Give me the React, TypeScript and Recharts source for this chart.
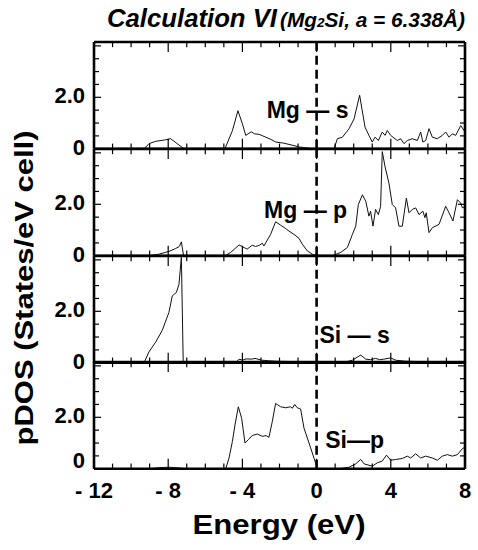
import { LineChart, Line, XAxis, YAxis, ReferenceLine, ReferenceDot } from 'recharts'

// pDOS panels: [energy (eV), states/eV cell]
const mgS: [number, number][] = [
  [-12, 0], [-9.3, 0], [-9.03, 0.2], [-8.67, 0.29], [-8.2, 0.34], [-7.87, 0.39], [-7.15, 0],
  [-4.94, 0], [-4.54, 0.7], [-4.24, 1.48], [-4.0, 0.97], [-3.82, 0.52], [-3.65, 0.6], [-3.52, 0.66],
  [-3.35, 0.58], [-3.1, 0.56], [-2.9, 0.5], [-2.74, 0.45], [-2.45, 0.36], [-2.2, 0.26], [-1.8, 0.22],
  [-1.49, 0.17], [-0.95, 0.07], [-0.24, 0], [0.94, 0], [1.12, 0.39], [1.39, 0.45], [1.75, 0.78],
  [2.02, 1.16], [2.32, 2.08], [2.61, 0.84], [2.82, 0.52], [3.0, 0.26], [3.15, 0.45], [3.33, 0.32],
  [3.54, 0.65], [3.69, 0.52], [3.81, 0.71], [3.99, 0.52], [4.17, 0.42], [4.35, 0.32], [4.53, 0.39],
  [4.71, 0.2], [4.89, 0.32], [5.16, 0.39], [5.43, 0.32], [5.61, 0.65], [5.73, 0.26], [5.88, 0.32],
  [6.06, 0.78], [6.24, 0.45], [6.51, 0.39], [6.78, 0.52], [6.96, 0.65], [7.14, 0.45], [7.32, 0.58],
  [7.5, 0.52], [7.77, 0.9], [7.95, 0.71], [8, 0.75],
]

const mgP: [number, number][] = [
  [-12, 0], [-9.04, 0], [-8.5, 0.06], [-7.96, 0.17], [-7.6, 0.28], [-7.4, 0.36], [-7.29, 0.54],
  [-7.17, 0], [-4.94, 0], [-4.63, 0.13], [-4.18, 0.42], [-3.91, 0.32], [-3.74, 0.26], [-3.47, 0.41],
  [-3.29, 0.36], [-3.07, 0.41], [-2.93, 0.49], [-2.84, 0.38], [-2.48, 0.83], [-2.21, 1.32],
  [-1.94, 1.19], [-1.67, 1.06], [-1.49, 0.96], [-1.22, 0.83], [-0.95, 0.68], [-0.77, 0.45],
  [-0.5, 0.19], [-0.23, 0.06], [0.02, 0], [0.85, 0], [1.3, 0.13], [1.66, 0.32], [1.93, 0.83],
  [2.11, 1.15], [2.25, 1.99], [2.47, 2.37], [2.65, 2.12], [2.82, 1.54], [2.91, 1.73], [3.04, 1.15],
  [3.18, 1.8], [3.33, 1.6], [3.45, 1.92], [3.54, 4.05], [3.69, 3.46], [3.9, 2.82], [4.08, 1.99],
  [4.26, 1.86], [4.44, 1.15], [4.62, 1.15], [4.84, 2.24], [4.98, 1.67], [5.16, 1.8], [5.34, 1.86],
  [5.52, 1.6], [5.73, 1.73], [5.84, 1.48], [5.91, 1.67], [6.06, 0.9], [6.24, 1.09], [6.6, 1.22],
  [6.96, 1.92], [7.14, 1.67], [7.35, 1.35], [7.59, 2.18], [7.77, 2.05], [7.86, 1.86], [8, 1.92],
]

const siS: [number, number][] = [
  [-12, 0], [-9.3, 0], [-9.04, 0.42], [-8.67, 0.81], [-8.32, 1.26], [-7.96, 1.96], [-7.78, 2.6],
  [-7.56, 2.73], [-7.42, 3.05], [-7.29, 4.1], [-7.19, 0], [-4.36, 0], [-4.18, 0.14], [-3.99, 0.1],
  [-3.8, 0.15], [-3.5, 0.14], [-3.32, 0.17], [-2.96, 0.1], [-2.6, 0.08], [-2.24, 0.06], [-1.6, 0.05],
  [-0.95, 0.04], [-0.23, 0], [1.39, 0], [1.93, 0.1], [2.38, 0.3], [2.65, 0.14], [2.9, 0.12],
  [3.18, 0.17], [3.4, 0.12], [3.63, 0.14], [3.99, 0.19], [4.26, 0.1], [4.8, 0.06], [5.88, 0.04],
  [6.8, 0.05], [7.68, 0.04], [8, 0.03],
]

const siP: [number, number][] = [
  [-12, 0], [-9.04, 0], [-8.5, 0.04], [-7.96, 0.06], [-7.4, 0.03], [-7.0, 0], [-4.9, 0],
  [-4.72, 0.42], [-4.54, 1.06], [-4.4, 1.7], [-4.22, 2.41], [-4.04, 1.96], [-3.86, 1.0],
  [-3.68, 1.13], [-3.47, 1.29], [-3.2, 1.35], [-2.93, 1.26], [-2.72, 1.29], [-2.57, 1.22],
  [-2.39, 1.83], [-2.21, 2.54], [-1.94, 2.41], [-1.67, 2.37], [-1.4, 2.41], [-1.31, 2.35],
  [-1.18, 2.5], [-1.04, 2.37], [-0.86, 2.32], [-0.68, 1.58], [-0.32, 0.81], [-0.09, 0.3], [0.04, 0],
  [1.21, 0], [1.75, 0.06], [2.11, 0.19], [2.38, 0.36], [2.56, 0.19], [3.0, 0.1], [3.27, 0.23],
  [3.54, 0.3], [3.77, 0.53], [3.99, 0.33], [4.26, 0.36], [4.62, 0.4], [4.89, 0.49], [5.07, 0.42],
  [5.34, 0.58], [5.61, 0.42], [5.88, 0.49], [6.24, 0.42], [6.51, 0.33], [6.78, 0.49], [7.05, 0.55],
  [7.32, 0.49], [7.59, 0.55], [7.86, 0.78], [8, 0.84],
]

const energyTicks = [-12, -11, -10, -9, -8, -7, -6, -5, -4, -3, -2, -1, 0, 1, 2, 3, 4, 5, 6, 7, 8]
const energyLabelTicks = [-12, -8, -4, 0, 4, 8]
const energyLabelText = ['- 12', '- 8', '- 4', '0', '4', '8']
const dosTicks = [0, 0.5, 1, 1.5, 2, 2.5, 3, 3.5, 4]
const dosLabelTicks = [0, 2]
const dosLabelText = ['0', '2.0']

const panelNames = ['Mg — s', 'Mg — p', 'Si — s', 'Si—p']
const panelSeries = [mgS, mgP, siS, siP]
// where each orbital label sits, in data coords (energy, dos), plus a pixel nudge
const panelLabelAt: [number, number, number][] = [[0, 1.5, -9], [0, 1.77, -11], [0, 1.06, 38], [0, 1.13, 38]]

const FONT = '"Liberation Sans", Arial, Helvetica, sans-serif'
const W = 478
const TOP = 42
const PH = 106.75
const LEFT_W = 94
const RIGHT_W = 13
const E_MIN = -12
const E_MAX = 8
const DOS_MAX = 4.15
// tick lengths, in data units (≈5 px / 10 px)
const X_TICK = 0.2
const X_TICK_MAJOR = 0.39
const Y_TICK = 0.27
const Y_TICK_MAJOR = 0.38

function BottomTick(props: any) {
  const { x, y, payload } = props
  const i = energyLabelTicks.indexOf(payload.value)
  if (i < 0) return <g />
  return (
    <text x={x} y={y + 29} textAnchor="middle" fontFamily={FONT} fontWeight="bold" fontSize={22} fill="#000">
      {energyLabelText[i]}
    </text>
  )
}

function LeftTick(props: any) {
  const { x, y, payload, lift } = props
  const v = payload.value
  const i = dosLabelTicks.indexOf(v)
  if (i < 0) return <g />
  return (
    <text x={x - 9} y={y + 7 - (v === 0 ? lift : 1)} textAnchor="end" fontFamily={FONT} fontWeight="bold" fontSize={22} fill="#000">
      {dosLabelText[i]}
    </text>
  )
}

const tickStyle = { stroke: '#000', strokeWidth: 1.2 }
const frameStyle = { stroke: '#000', strokeWidth: 2.6 }

function Panel({ index }: { index: number }) {
  const data = panelSeries[index].map(([e, v]) => ({ e, v }))
  const last = index === panelSeries.length - 1
  const xH = last ? 82 : 0
  const [le, lv, ldx] = panelLabelAt[index]
  const name = panelNames[index]
  return (
    <div style={{ position: 'absolute', left: 0, top: TOP + index * PH }}>
      <LineChart width={W} height={PH + xH} data={data} margin={{ top: 0, right: RIGHT_W, bottom: 0, left: 0 }}>
        <XAxis
          type="number" dataKey="e" domain={[E_MIN, E_MAX]} ticks={energyTicks} interval={0}
          height={xH} tickSize={0} tickMargin={0} tickLine={false} axisLine={false}
          tick={<BottomTick />} allowDataOverflow
        />
        <YAxis
          type="number" domain={[0, DOS_MAX]} ticks={dosTicks} interval={0} width={LEFT_W}
          tickSize={0} tickMargin={0} tickLine={false} axisLine={false}
          tick={<LeftTick lift={last ? 8 : 1} />} allowDataOverflow
        />
        <ReferenceLine x={0} stroke="#000" strokeWidth={2.6} strokeDasharray="9 5" />
        <Line
          dataKey="v" type="linear" dot={false} activeDot={false}
          stroke="#111" strokeWidth={1} isAnimationActive={false}
        />
        {energyTicks.map((e) => {
          const len = e % 4 === 0 ? X_TICK_MAJOR : X_TICK
          return [
            <ReferenceLine key={`b${e}`} segment={[{ x: e, y: 0 }, { x: e, y: len }]} {...tickStyle} />,
            <ReferenceLine key={`t${e}`} segment={[{ x: e, y: DOS_MAX }, { x: e, y: DOS_MAX - len }]} {...tickStyle} />,
          ]
        })}
        {dosTicks.map((v) => {
          const len = v % 2 === 0 ? Y_TICK_MAJOR : Y_TICK
          return [
            <ReferenceLine key={`l${v}`} segment={[{ x: E_MIN, y: v }, { x: E_MIN + len, y: v }]} {...tickStyle} />,
            <ReferenceLine key={`r${v}`} segment={[{ x: E_MAX, y: v }, { x: E_MAX - len, y: v }]} {...tickStyle} />,
          ]
        })}
        <ReferenceLine y={0} {...frameStyle} />
        <ReferenceLine y={DOS_MAX} {...frameStyle} />
        <ReferenceLine x={E_MIN} {...frameStyle} />
        <ReferenceLine x={E_MAX} {...frameStyle} />
        <ReferenceDot
          x={le} y={lv} r={0} fill="none" stroke="none"
          label={(p: any) => {
            const vb = p.viewBox || {}
            const cx = (vb.x ?? 0) + (vb.width ?? 0) / 2
            const cy = (vb.y ?? 0) + (vb.height ?? 0) / 2
            return (
              <text x={cx + ldx} y={cy + 8} textAnchor="middle" fontFamily={FONT} fontWeight="bold" fontSize={23} fill="#000">
                {name}
              </text>
            )
          }}
        />
      </LineChart>
    </div>
  )
}

export default function App() {
  return (
    <div style={{ position: 'absolute', left: 0, top: 0, width: W, height: 550, background: '#fff' }}>
      <style>{'.recharts-surface{overflow:visible}'}</style>
      {panelSeries.map((_, i) => <Panel key={i} index={i} />)}
      <svg width={W} height={550} style={{ position: 'absolute', left: 0, top: 0, pointerEvents: 'none' }}>
        <text x={107} y={27} fontFamily={FONT} fontWeight="bold" fontStyle="italic" fontSize={25} textLength={170} lengthAdjust="spacingAndGlyphs">
          Calculation VI
        </text>
        <text x={280} y={27} fontFamily={FONT} fontWeight="bold" fontStyle="italic" fontSize={20} textLength={185} lengthAdjust="spacingAndGlyphs">
          (Mg<tspan fontSize={13}>2</tspan>Si, a = 6.338Å)
        </text>
        <text
          x={33} y={288} transform="rotate(-90 33 288)" textAnchor="middle" fontFamily={FONT}
          fontWeight="bold" fontSize={26} textLength={315} lengthAdjust="spacingAndGlyphs"
        >
          pDOS (States/eV cell)
        </text>
        <text x={279} y={534} textAnchor="middle" fontFamily={FONT} fontWeight="bold" fontSize={27} textLength={173} lengthAdjust="spacingAndGlyphs">
          Energy (eV)
        </text>
      </svg>
    </div>
  )
}
